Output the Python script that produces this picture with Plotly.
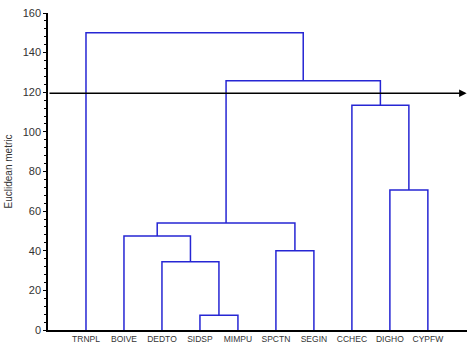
import plotly.graph_objects as go

leaves = ["TRNPL", "BOIVE", "DEDTO", "SIDSP", "MIMPU", "SPCTN", "SEGIN", "CCHEC", "DIGHO", "CYPFW"]
# merges (scipy-like): leaves 0..9, new clusters 10, 11, ...
merge_left = [3, 2, 1, 5, 12, 8, 7, 14, 0]
merge_right = [4, 10, 11, 6, 13, 9, 15, 16, 17]
merge_height = [7.5, 34.5, 47.5, 40.0, 54.0, 70.6, 113.5, 125.8, 150.0]
cut_height = 119.5
y_ticks = [0, 20, 40, 60, 80, 100, 120, 140, 160]

leaf_pos = list(range(1, len(leaves) + 1))
xpos = {i: p for i, p in enumerate(leaf_pos)}
hpos = {i: 0.0 for i in range(len(leaves))}

xs, ys = [], []
for k, (a, b, h) in enumerate(zip(merge_left, merge_right, merge_height)):
    xa, xb = xpos[a], xpos[b]
    xs += [xa, xa, xb, xb, None]
    ys += [hpos[a], h, h, hpos[b], None]
    nid = len(leaves) + k
    xpos[nid] = (xa + xb) / 2
    hpos[nid] = h

fig = go.Figure()
fig.add_trace(go.Scatter(x=xs, y=ys, mode="lines",
                         line=dict(color="#2626d4", width=1.5),
                         hoverinfo="skip", showlegend=False))
# cut line with arrow
fig.add_annotation(x=11.02, y=cut_height, ax=0, ay=cut_height,
                   xref="x", yref="y", axref="x", ayref="y",
                   showarrow=True, arrowhead=2, arrowsize=1.0, arrowwidth=1.5,
                   arrowcolor="black", text="")

fig.update_layout(
    width=474, height=355,
    margin=dict(l=48, r=7, t=9, b=25),
    plot_bgcolor="white", paper_bgcolor="white",
    font=dict(family="Liberation Sans, Arial, sans-serif", color="#333"),
)
fig.update_xaxes(range=[0, 11.03], tickvals=leaf_pos, ticktext=leaves,
                 showline=True, linecolor="black", linewidth=1.5,
                 showgrid=False, zeroline=False, ticks="",
                 tickfont=dict(size=8.5), fixedrange=True)
fig.update_yaxes(range=[0, 160], tickvals=y_ticks,
                 showline=True, linecolor="black", linewidth=1.5,
                 showgrid=False, zeroline=False, ticks="outside", ticklen=3,
                 tickcolor="black",
                 minor=dict(dtick=4, ticks="outside", ticklen=2, tickcolor="black"),
                 tickfont=dict(size=11),
                 title=dict(text="Euclidean metric", font=dict(size=10), standoff=8))

fig.write_html("out.html")
